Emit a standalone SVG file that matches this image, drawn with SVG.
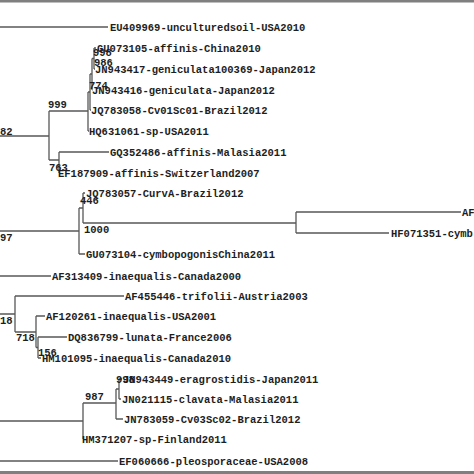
<svg xmlns="http://www.w3.org/2000/svg" width="474" height="474" viewBox="0 0 474 474">
<style>
text{font-family:"Liberation Mono","Courier New",monospace;font-size:10.5px;font-weight:bold;fill:#1e1e1e}
.e{stroke:#585858;stroke-width:1.3;fill:none}
.b{stroke:#7f7f7f;stroke-width:3}
</style>
<rect width="474" height="474" fill="#fff"/>
<line class="b" x1="0" y1="1" x2="474" y2="1"/>
<line class="b" x1="0" y1="472.5" x2="474" y2="472.5"/>
<g id="connectors" class="e">
<path d="M0 27H108"/>
<path d="M0 136H49M49 111V160M49 111H88M88 92V131M88 131H89M88 92H90M90 74V110M90 110H91M90 74H92M92 58.5V90M92 90H92.5M92 58.5H94M94 48V69M94 48H96M94 69H95"/>
<path d="M49 160H59M59 152V173M59 152H109M59 173H59.5"/>
<path d="M0 231H79M79 208V254M79 254H85M79 208H83M83 193V223M83 193H85M83 223H296M296 212V233M296 212H461M296 233H389"/>
<path d="M0 276H51"/>
<path d="M0 314H15M15 296V332M15 296H124M15 332H36M36 316V347.5M36 316H45M36 347.5H38M38 337V358M38 337H67M38 358H41"/>
<path d="M0 421H83M83 403V439M83 439H84M83 403H116M116 389V419M116 419H123M116 389H119M119 379V399M119 379H122M119 399H121"/>
<path d="M0 461H118"/>
</g>
<g id="labels">
<text x="0" y="135">82</text>
<text x="48" y="108">999</text>
<text x="93" y="56">998</text>
<text x="94" y="66">986</text>
<text x="89" y="89">774</text>
<text x="49" y="171">763</text>
<text x="80" y="204">446</text>
<text x="84" y="233">1000</text>
<text x="0" y="241">97</text>
<text x="0" y="324">18</text>
<text x="16" y="341">718</text>
<text x="38" y="356">156</text>
<text x="116" y="383">998</text>
<text x="85" y="400">987</text>
</g>
<g id="n1"><text x="110" y="31">EU409969-unculturedsoil-USA2010</text></g>
<g id="n2"><text x="97" y="52">GU073105-affinis-China2010</text></g>
<g id="n3"><text x="95" y="73">JN943417-geniculata100369-Japan2012</text></g>
<g id="n4"><text x="92" y="94">JN943416-geniculata-Japan2012</text></g>
<g id="n5"><text x="91" y="114">JQ783058-Cv01Sc01-Brazil2012</text></g>
<g id="n6"><text x="89" y="135">HQ631061-sp-USA2011</text></g>
<g id="n7"><text x="110" y="156">GQ352486-affinis-Malasia2011</text></g>
<g id="n8"><text x="58" y="177">EF187909-affinis-Switzerland2007</text></g>
<g id="n9"><text x="86" y="197">JQ783057-CurvA-Brazil2012</text></g>
<g id="n10"><text x="462" y="216">AF</text></g>
<g id="n11"><text x="391" y="237">HF071351-cymb</text></g>
<g id="n12"><text x="86" y="258">GU073104-cymbopogonisChina2011</text></g>
<g id="n13"><text x="52" y="280">AF313409-inaequalis-Canada2000</text></g>
<g id="n14"><text x="125" y="300">AF455446-trifolii-Austria2003</text></g>
<g id="n15"><text x="46" y="320">AF120261-inaequalis-USA2001</text></g>
<g id="n16"><text x="68" y="341">DQ836799-lunata-France2006</text></g>
<g id="n17"><text x="42" y="362">HM101095-inaequalis-Canada2010</text></g>
<g id="n18"><text x="123" y="383">JN943449-eragrostidis-Japan2011</text></g>
<g id="n19"><text x="122" y="403">JN021115-clavata-Malasia2011</text></g>
<g id="n20"><text x="124" y="423">JN783059-Cv03Sc02-Brazil2012</text></g>
<g id="n21"><text x="82" y="443">HM371207-sp-Finland2011</text></g>
<g id="n22"><text x="119" y="465">EF060666-pleosporaceae-USA2008</text></g>
</svg>
